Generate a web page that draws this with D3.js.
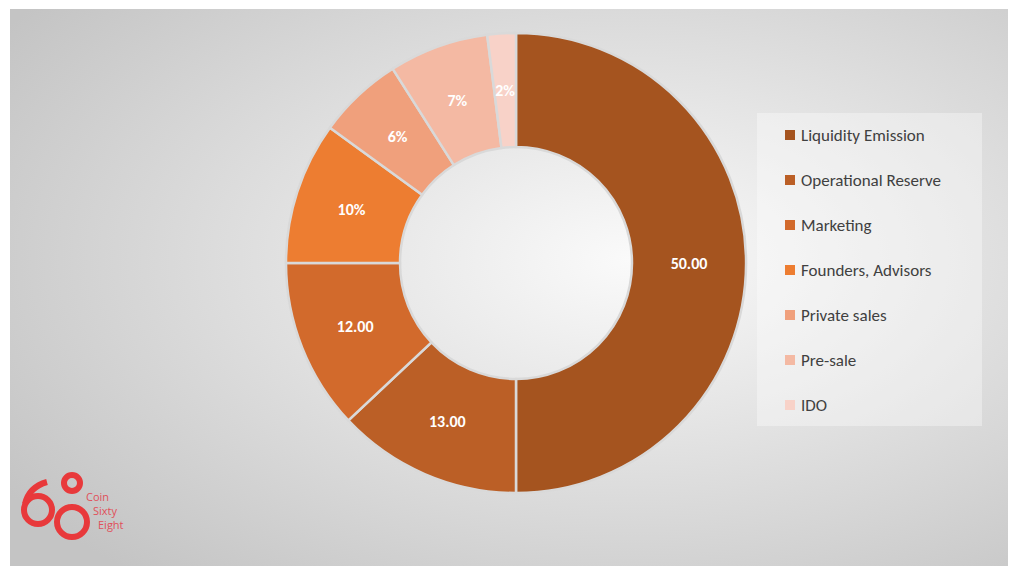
<!DOCTYPE html>
<html><head><meta charset="utf-8">
<script src="https://cdn.jsdelivr.net/npm/d3@7"></script>
<style>body{margin:0;background:#fff}</style></head>
<body><div id="chart"></div>
<script>
var categories = ["Liquidity Emission","Operational Reserve","Marketing","Founders, Advisors","Private sales","Pre-sale","IDO"];
var values = [50,13,12,10,6,7,2];
var labels = ["50.00","13.00","12.00","10%","6%","7%","2%"];
var colors = ["#a5541f","#bb5f26","#d26a2c","#ed7d31","#f0a07c","#f4b9a3","#f8d2c8"];
var logoWords = ["Coin","Sixty","Eight"];

var svg = d3.select("#chart").append("svg").attr("width",1024).attr("height",576);
var defs = svg.append("defs");
var g1 = defs.append("radialGradient").attr("id","bg").attr("cx","62%").attr("cy","45%").attr("r","75%");
g1.append("stop").attr("offset","0%").attr("stop-color","#fafafa");
g1.append("stop").attr("offset","100%").attr("stop-color","#c4c4c4");
svg.append("rect").attr("x",10).attr("y",9).attr("width",998).attr("height",557).attr("fill","url(#bg)");

var cx = 516, cy = 263;
var pie = d3.pie().sort(null).value(d => d);
var arc = d3.arc().innerRadius(116).outerRadius(230);
var labelArc = d3.arc().innerRadius(173).outerRadius(173);
var arcs = pie(values);
var chart = svg.append("g").attr("transform",`translate(${cx},${cy})`);
chart.selectAll("path").data(arcs).enter().append("path")
  .attr("d",arc).attr("fill",(d,i)=>colors[i])
  .attr("stroke","#d9d9d9").attr("stroke-width",2.5);
chart.selectAll("text").data(arcs).enter().append("text")
  .attr("transform",d=>`translate(${labelArc.centroid(d)})`)
  .attr("text-anchor","middle").attr("dy","0.35em")
  .attr("fill","#fff").attr("font-family","Carlito, 'Open Sans', sans-serif")
  .attr("font-weight","bold").attr("font-size",16)
  .text((d,i)=>labels[i]);

svg.append("rect").attr("x",757).attr("y",113).attr("width",225).attr("height",313)
  .attr("fill","#fff").attr("opacity",0.35);
var leg = svg.append("g").selectAll("g").data(categories).enter().append("g")
  .attr("transform",(d,i)=>`translate(785,${135+i*45})`);
leg.append("rect").attr("x",0).attr("y",-5).attr("width",10).attr("height",10).attr("fill",(d,i)=>colors[i]);
leg.append("text").attr("x",16).attr("dy","0.35em").attr("fill","#404040")
  .attr("font-family","Carlito, 'Open Sans', sans-serif").attr("font-size",17).text(d=>d);

// logo
var logo = svg.append("g").attr("fill","none").attr("stroke","#e8393b").attr("stroke-width",6);
logo.append("circle").attr("cx",38).attr("cy",510).attr("r",14);
logo.append("path").attr("d","M25,504 Q29,487 47,482");
logo.append("circle").attr("cx",72).attr("cy",483).attr("r",8);
logo.append("circle").attr("cx",72).attr("cy",522).attr("r",15);
svg.append("g").attr("fill","#e0505a").attr("font-family","'Open Sans', sans-serif").attr("font-size",11)
  .selectAll("text").data(logoWords).enter().append("text")
  .attr("x",(d,i)=>[86,93,98][i]).attr("y",(d,i)=>501+i*14).text(d=>d);
</script></body></html>
